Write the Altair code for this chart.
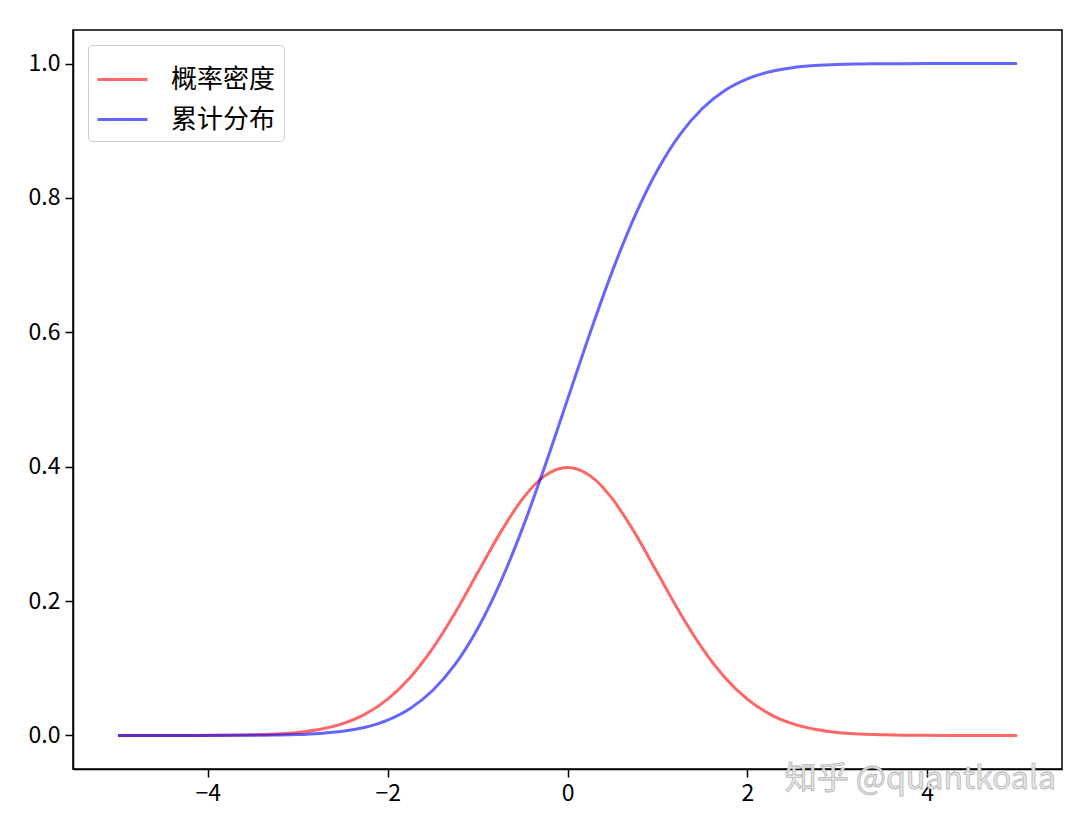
import altair as alt
import pandas as pd

xs = [-5.0, -4.75, -4.5, -4.25, -4.0, -3.75, -3.5, -3.25, -3.0, -2.75, -2.5, -2.25, -2.0,
      -1.75, -1.5, -1.25, -1.0, -0.75, -0.5, -0.25, 0.0, 0.25, 0.5, 0.75, 1.0, 1.25, 1.5,
      1.75, 2.0, 2.25, 2.5, 2.75, 3.0, 3.25, 3.5, 3.75, 4.0, 4.25, 4.5, 4.75, 5.0]

pdf_vals = [0.0000, 0.0000, 0.0000, 0.0000, 0.0001, 0.0004, 0.0009, 0.0020, 0.0044, 0.0091,
            0.0175, 0.0317, 0.0540, 0.0863, 0.1295, 0.1826, 0.2420, 0.3011, 0.3521, 0.3867,
            0.3989, 0.3867, 0.3521, 0.3011, 0.2420, 0.1826, 0.1295, 0.0863, 0.0540, 0.0317,
            0.0175, 0.0091, 0.0044, 0.0020, 0.0009, 0.0004, 0.0001, 0.0000, 0.0000, 0.0000, 0.0000]

cdf_vals = [0.0000, 0.0000, 0.0000, 0.0000, 0.0000, 0.0001, 0.0002, 0.0006, 0.0013, 0.0030,
            0.0062, 0.0122, 0.0228, 0.0401, 0.0668, 0.1056, 0.1587, 0.2266, 0.3085, 0.4013,
            0.5000, 0.5987, 0.6915, 0.7734, 0.8413, 0.8944, 0.9332, 0.9599, 0.9772, 0.9878,
            0.9938, 0.9970, 0.9987, 0.9994, 0.9998, 0.9999, 1.0000, 1.0000, 1.0000, 1.0000, 1.0000]

series_names = ["概率密度", "累计分布"]
series_colors = ["red", "blue"]
x_ticks = [-4, -2, 0, 2, 4]
y_ticks = [0.0, 0.2, 0.4, 0.6, 0.8, 1.0]
watermark = "知乎 @quantkoala"

rows = []
for x, v in zip(xs, pdf_vals):
    rows.append({"x": x, "y": v, "series": series_names[0]})
for x, v in zip(xs, cdf_vals):
    rows.append({"x": x, "y": v, "series": series_names[1]})
df = pd.DataFrame(rows)

FONT = "Noto Sans CJK SC"

lines = alt.Chart(df).mark_line(strokeWidth=3, opacity=0.6, interpolate="monotone").encode(
    x=alt.X("x:Q", scale=alt.Scale(domain=[-5.5, 5.5], nice=False, zero=False),
            axis=alt.Axis(values=x_ticks, format="d", title=None)),
    y=alt.Y("y:Q", scale=alt.Scale(domain=[-0.05, 1.05], nice=False, zero=False),
            axis=alt.Axis(values=y_ticks, format=".1f", title=None)),
    color=alt.Color("series:N",
                    scale=alt.Scale(domain=series_names, range=series_colors),
                    sort=series_names,
                    legend=alt.Legend(title=None, orient="none", legendX=15, legendY=15,
                                      symbolType="stroke", symbolSize=2500,
                                      symbolStrokeWidth=3, symbolOpacity=0.6,
                                      labelFontSize=26, labelFont=FONT, labelColor="black",
                                      labelOffset=22, rowPadding=0,
                                      fillColor="white", strokeColor="#cccccc",
                                      cornerRadius=4, padding=8)),
)

wm = alt.Chart(pd.DataFrame({"t": [watermark]})).mark_text(
    fontSize=32, font=FONT, align="right", baseline="middle",
    fill="#e8e8e8", stroke="#b5b5b5", strokeWidth=0.8, clip=False
).encode(text="t:N", x=alt.value(983), y=alt.value(749))

chart = alt.layer(lines, wm).properties(
    width=989, height=739,
    background="white",
    autosize=alt.AutoSizeParams(type="none"),
    padding={"left": 65, "top": 22, "right": 16, "bottom": 50},
).configure_view(
    stroke="black", strokeWidth=1.5
).configure_axis(
    grid=False, domainColor="black", domainWidth=1.5, tickColor="black", tickWidth=1.5,
    tickSize=8, labelFont=FONT, labelFontSize=23, labelColor="black", labelPadding=5
)

chart.save("out.html", embed_options={"renderer": "svg", "actions": False})
